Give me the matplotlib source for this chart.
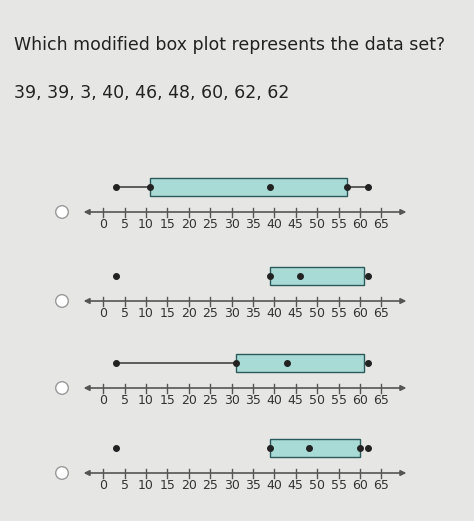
import matplotlib.pyplot as plt
from matplotlib.patches import Rectangle, Circle

question = "Which modified box plot represents the data set?"
data_text = "39, 39, 3, 40, 46, 48, 60, 62, 62"
ticks = list(range(0, 70, 5))

# per option: whisker low, q1, median, q3, whisker high, outliers
w_lo = [3, None, 3, None]
q1 = [11, 39, 31, 39]
med = [39, 46, 43, 48]
q3 = [57, 61, 61, 60]
w_hi = [62, None, None, None]
outliers = [[], [3, 62], [62], [3, 62]]
dots = [[3, 11, 39, 57, 62], [39, 46], [3, 31, 43], [39, 48, 60]]

line_y = [212, 301, 388, 473]  # pixel rows of number lines
W, H = 474, 521

fig = plt.figure(figsize=(W / 100, H / 100), dpi=100)
fig.patch.set_facecolor("#e6e6e4")
fig.text(14 / W, 1 - 45 / H, question, fontsize=12.5, va="center", color="#222")
fig.text(14 / W, 1 - 93 / H, data_text, fontsize=12.5, va="center", color="#222")

for k in range(4):
    yl = line_y[k]
    ax = fig.add_axes([80 / W, 1 - (yl + 25) / H, 330 / W, 62.5 / H])
    ax.set_xlim(-5.4, 71.7)
    ax.set_ylim(-1, 1.5)
    ax.axis("off")
    ax.annotate("", xy=(71.5, 0), xytext=(-5.2, 0),
                arrowprops=dict(arrowstyle="<|-|>", color="#555", lw=1.2, mutation_scale=8))
    for t in ticks:
        ax.plot([t, t], [-0.18, 0.18], color="#555", lw=1)
        ax.text(t, -0.5, str(t), ha="center", va="center", fontsize=9, color="#333")
    # box
    ax.add_patch(Rectangle((q1[k], 0.65), q3[k] - q1[k], 0.7,
                           facecolor="#a9dbd6", edgecolor="#2a5a5a", lw=1))
    if w_lo[k] is not None:
        ax.plot([w_lo[k], q1[k]], [1, 1], color="#444", lw=1.2)
    if w_hi[k] is not None:
        ax.plot([q3[k], w_hi[k]], [1, 1], color="#444", lw=1.2)
    pts = dots[k] + outliers[k]
    ax.plot(pts, [1] * len(pts), "o", color="#222", ms=4)

    # radio circle
    cax = fig.add_axes([55 / W, 1 - (yl + 7) / H, 14 / W, 14 / H])
    cax.set_xlim(-1, 1)
    cax.set_ylim(-1, 1)
    cax.axis("off")
    cax.add_patch(Circle((0, 0), 0.9, facecolor="white", edgecolor="#999", lw=1))

fig.savefig("out.png", dpi=100, facecolor=fig.get_facecolor())
